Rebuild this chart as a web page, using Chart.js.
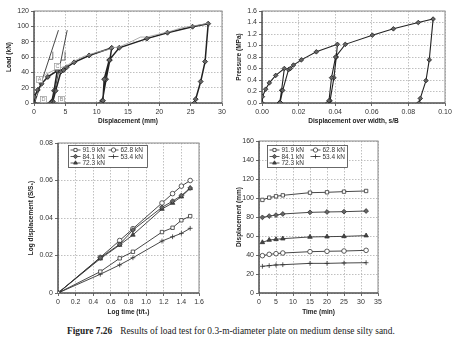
<!DOCTYPE html>
<html>
<head>
<meta charset="utf-8">
<script src="https://cdn.jsdelivr.net/npm/chart.js@4.4.0/dist/chart.umd.min.js"></script>
<style>
  html, body { margin: 0; padding: 0; background: #fff; }
  #page { position: relative; width: 474px; height: 345px; overflow: hidden; }
  .panel { position: absolute; }
  #caption {
    position: absolute; left: 67px; top: 326px; white-space: nowrap;
    font-family: 'Liberation Serif', 'Times New Roman', serif; font-size: 9.4px; color: #222;
  }
  #caption b { margin-right: 8px; }
</style>
</head>
<body>
<div id="page">
  <canvas id="cLoad" class="panel" width="230" height="130" style="left:0;top:0"></canvas>
  <canvas id="cPress" class="panel" width="242" height="130" style="left:232px;top:0"></canvas>
  <canvas id="cLogT" class="panel" width="230" height="190" style="left:0;top:130px"></canvas>
  <canvas id="cTime" class="panel" width="242" height="190" style="left:232px;top:130px"></canvas>
  <div id="caption"><b>Figure 7.26</b>Results of load test for 0.3-m-diameter plate on medium dense silty sand.</div>
</div>
<script>
// ---- load / displacement (mm) ----
const loadDisp = [0, 0.05, 0.6, 1.2, 2.2, 3.7, 3.2, 2.85, 2.7, 3.0, 3.45, 4.3, 4.7, 5.2, 6.4, 8.8, 12.4, 12.1, 11.5, 10.9, 10.7, 11.0, 11.2, 12.0, 13.6, 18.0, 21.3, 25.3, 27.8, 27.3, 26.6, 25.8, 25.6];
const loadKN   = [0, 8, 17, 25, 34, 42, 16, 2, 0, 2, 16, 41, 43, 46.5, 53, 62, 72, 56, 31, 3, 0, 3, 31, 56, 72, 84, 91.7, 99.5, 103.5, 54, 28, 5, 0];
// hand-drawn trend curve
const trendDisp = [1.0, 2.0, 3.5, 5.0, 6.5, 8.0, 10.0, 12.0, 12.4, 13.5, 15.0, 17.0, 18.0, 20.0, 22.0, 23.5, 25.0, 26.5, 27.8];
const trendKN   = [30, 38, 44, 48, 55, 61, 66, 70, 72, 73, 78, 86, 86, 90, 94, 98, 100, 102, 104];
// initial slopes
const slope1Disp = [0.1, 3.9];
const slope1KN   = [0, 95];
const slope2Disp = [2.9, 5.3];
const slope2KN   = [0, 95];
const mark1Disp = [2.4, 3.0, 3.0];
const mark1KN   = [57, 57, 67];
const mark2Disp = [4.33, 4.95, 4.95];
const mark2KN   = [56, 56, 67];
const tagNames = ['A', 'B', 'C', 'D'];
const tagDisp  = [0.85, 4.3, 3.6, 1.5];
const tagKN    = [31, 4.8, 48.7, 4.8];

// ---- pressure / normalised displacement ----
const sOverB   = [0, 0.0002, 0.002, 0.004, 0.0075, 0.0122, 0.0107, 0.0097, 0.0095, 0.0099, 0.0113, 0.0145, 0.0155, 0.0172, 0.0215, 0.0297, 0.0412, 0.0406, 0.0393, 0.0372, 0.036, 0.0366, 0.038, 0.0402, 0.0455, 0.0603, 0.0718, 0.0854, 0.0935, 0.0914, 0.0896, 0.0865, 0.0858];
const pressMPa = [0, 0.11, 0.24, 0.35, 0.48, 0.60, 0.22, 0.01, 0, 0.01, 0.22, 0.58, 0.60, 0.66, 0.75, 0.89, 1.02, 0.80, 0.44, 0.04, 0, 0.04, 0.44, 0.80, 1.02, 1.18, 1.29, 1.40, 1.46, 0.75, 0.39, 0.08, 0];

// ---- creep stages ----
const stageLabels = ['91.9 kN', '84.1 kN', '72.3 kN', '62.8 kN', '53.4 kN'];
const logTime = [0, 0.48, 0.70, 0.85, 1.18, 1.30, 1.40, 1.50];
const logDisp919 = [0, 0.0114, 0.0185, 0.022, 0.0325, 0.0348, 0.0388, 0.041];
const logDisp841 = [0, 0.0188, 0.026, 0.0336, 0.0457, 0.049, 0.052, 0.056];
const logDisp723 = [0, 0.0183, 0.0256, 0.031, 0.0448, 0.048, 0.0514, 0.0558];
const logDisp628 = [0, 0.019, 0.028, 0.0343, 0.048, 0.053, 0.057, 0.060];
const logDisp534 = [0, 0.010, 0.015, 0.0188, 0.0277, 0.030, 0.0318, 0.0345];

const timeMin = [1, 3, 5, 7, 15, 20, 25, 31.5];
const disp919 = [98, 100.4, 101.8, 102.8, 105.6, 106, 106.7, 107.4];
const disp841 = [79.6, 81, 82, 83.2, 84.9, 85.3, 85.6, 86.3];
const disp723 = [53.3, 55.8, 56.5, 57.2, 59, 59.3, 59.6, 60.4];
const disp628 = [39.3, 40.7, 41.4, 42.1, 43.5, 43.9, 44.2, 44.9];
const disp534 = [28.1, 28.8, 29.5, 29.8, 31.2, 31.2, 31.6, 31.9];

Chart.defaults.font.family = "'Liberation Sans', Arial, sans-serif";
Chart.defaults.color = '#333';

const pts = (xs, ys) => xs.map((x, i) => ({ x: x, y: ys[i] }));

// frame round the plot, darker on the two axes
const framePlugin = {
  id: 'frame',
  beforeDatasetsDraw(chart) {
    const { ctx, chartArea: a } = chart;
    ctx.save();
    ctx.lineWidth = 1;
    ctx.strokeStyle = '#8a8a8a';
    ctx.strokeRect(a.left, a.top, a.right - a.left, a.bottom - a.top);
    ctx.strokeStyle = '#333';
    ctx.beginPath();
    ctx.moveTo(a.left, a.top);
    ctx.lineTo(a.left, a.bottom);
    ctx.lineTo(a.right, a.bottom);
    ctx.stroke();
    ctx.restore();
  }
};

// boxed legend inside the plot, two columns
const boxLegend = {
  id: 'boxLegend',
  afterDraw(chart, args, opts) {
    if (!opts || !opts.w) return;
    const { ctx, chartArea } = chart;
    const x0 = Math.round(chartArea.left + opts.dx) + 0.5;
    const y0 = Math.round(chartArea.top + opts.dy) + 0.5;
    ctx.save();
    ctx.fillStyle = '#fff';
    ctx.fillRect(x0, y0, opts.w, opts.h);
    ctx.strokeStyle = '#444';
    ctx.lineWidth = 0.8;
    ctx.strokeRect(x0, y0, opts.w, opts.h);
    ctx.font = "6.5px 'Liberation Sans', Arial, sans-serif";
    ctx.textBaseline = 'middle';
    chart.data.datasets.forEach((ds, i) => {
      const lx = x0 + opts.colX[opts.cols[i]];
      const ly = y0 + opts.rowY[opts.rows[i]];
      ctx.strokeStyle = ds.borderColor;
      ctx.lineWidth = 0.8;
      ctx.beginPath();
      ctx.moveTo(lx, ly);
      ctx.lineTo(lx + 10, ly);
      ctx.stroke();
      ctx.fillStyle = ds.pointBackgroundColor;
      ctx.strokeStyle = ds.pointBorderColor;
      Chart.helpers.drawPoint(ctx, { pointStyle: ds.pointStyle, radius: 2.2, rotation: 0, borderWidth: 0.8 }, lx + 5, ly);
      ctx.fillStyle = '#333';
      ctx.fillText(ds.label, lx + 12, ly + 0.5);
    });
    ctx.restore();
  }
};

// little boxed letters on the load curve
const letterTags = {
  id: 'letterTags',
  afterDatasetsDraw(chart, args, opts) {
    if (!opts || !opts.names) return;
    const { ctx, scales } = chart;
    ctx.save();
    ctx.font = "5.5px 'Liberation Sans', Arial, sans-serif";
    ctx.textAlign = 'center';
    ctx.textBaseline = 'middle';
    opts.names.forEach((n, i) => {
      const px = Math.round(scales.x.getPixelForValue(opts.xs[i])) + 0.5;
      const py = Math.round(scales.y.getPixelForValue(opts.ys[i])) + 0.5;
      ctx.fillStyle = '#fff';
      ctx.fillRect(px - 3, py - 3, 6, 6);
      ctx.strokeStyle = '#999';
      ctx.lineWidth = 0.7;
      ctx.strokeRect(px - 3, py - 3, 6, 6);
      ctx.fillStyle = '#888';
      ctx.fillText(n, px, py + 0.3);
    });
    ctx.restore();
  }
};

function axis(o) {
  const a = {
    type: 'linear', min: o.min, max: o.max,
    ticks: { stepSize: o.step, autoSkip: false, maxRotation: 0, padding: 2, font: { size: 7 }, color: '#333' },
    grid: { color: '#b0b0b0', lineWidth: 0.8, tickColor: '#444', tickLength: 3, tickWidth: 0.8, tickBorderDash: [] },
    border: { display: false, dash: [1.5, 1.5] },
    title: { display: true, text: o.title, color: '#222', font: { size: 6.5, weight: 'bold' }, padding: { top: 0, bottom: 0 } }
  };
  if (o.fmt) a.ticks.callback = o.fmt;
  if (o.horizontal) {
    a.title.padding.bottom = o.titlePad;
    a.afterFit = s => { s.height = o.size; };
  } else {
    a.title.padding.top = o.titlePad;
    a.afterFit = s => { s.width = o.size; };
  }
  return a;
}

function baseOptions(xAx, yAx, pad, extra) {
  return {
    responsive: false,
    animation: false,
    devicePixelRatio: 1,
    layout: { padding: { top: pad.top, right: pad.right, left: 0, bottom: 0 } },
    plugins: Object.assign({ legend: { display: false }, tooltip: { enabled: false } }, extra || {}),
    scales: { x: xAx, y: yAx }
  };
}

const curveStyle = {
  showLine: true, borderColor: '#222', borderWidth: 1.5,
  pointStyle: 'rectRot', pointRadius: 2.5, pointBackgroundColor: '#666', pointBorderColor: '#222', pointBorderWidth: 0.8
};
const thinLine = { showLine: true, borderColor: '#333', borderWidth: 0.9, pointRadius: 0 };

// load vs displacement
new Chart(document.getElementById('cLoad'), {
  type: 'scatter',
  data: {
    datasets: [
      Object.assign({ data: pts(trendDisp, trendKN) }, thinLine, { borderColor: '#9a9a9a', borderWidth: 0.8 }),
      Object.assign({ data: pts(slope1Disp, slope1KN) }, thinLine),
      Object.assign({ data: pts(slope2Disp, slope2KN) }, thinLine),
      Object.assign({ data: pts(mark1Disp, mark1KN) }, thinLine, { borderWidth: 0.7 }),
      Object.assign({ data: pts(mark2Disp, mark2KN) }, thinLine, { borderWidth: 0.7 }),
      Object.assign({ data: pts(loadDisp, loadKN) }, curveStyle)
    ]
  },
  options: baseOptions(
    axis({ min: 0, max: 30, step: 5, title: 'Displacement (mm)', horizontal: true, size: 27, titlePad: 5 }),
    axis({ min: 0, max: 120, step: 20, title: 'Load (kN)', size: 34, titlePad: 5 }),
    { top: 11, right: 8 },
    { letterTags: { names: tagNames, xs: tagDisp, ys: tagKN } }
  ),
  plugins: [framePlugin, letterTags]
});

// pressure vs s/B
new Chart(document.getElementById('cPress'), {
  type: 'scatter',
  data: { datasets: [Object.assign({ data: pts(sOverB, pressMPa) }, curveStyle, { borderWidth: 1.1, pointRadius: 2.3 })] },
  options: baseOptions(
    axis({ min: 0, max: 0.1, step: 0.02, title: 'Displacement over width, s/B', horizontal: true, size: 27, titlePad: 5, fmt: v => v.toFixed(2) }),
    axis({ min: 0, max: 1.6, step: 0.2, title: 'Pressure (MPa)', size: 30, titlePad: 3, fmt: v => v.toFixed(1) }),
    { top: 11, right: 29 }
  ),
  plugins: [framePlugin]
});

// marker per load stage
const stageStyles = [
  { pointStyle: 'rect', pointRadius: 2.4, pointBackgroundColor: '#fff' },
  { pointStyle: 'rectRot', pointRadius: 2.4, pointBackgroundColor: '#666' },
  { pointStyle: 'triangle', pointRadius: 2.6, pointBackgroundColor: '#444' },
  { pointStyle: 'circle', pointRadius: 2.3, pointBackgroundColor: '#fff' },
  { pointStyle: 'cross', pointRadius: 2.4, pointBackgroundColor: '#333' }
];
function stageSets(xs, series) {
  return series.map((ys, i) => Object.assign({
    label: stageLabels[i], data: pts(xs, ys), showLine: true,
    borderColor: '#333', borderWidth: 0.9, pointBorderColor: '#333', pointBorderWidth: 0.8
  }, stageStyles[i]));
}
const legendLayout = { cols: [0, 0, 0, 1, 1], rows: [0, 1, 2, 0, 1] };

// log displacement vs log time
new Chart(document.getElementById('cLogT'), {
  type: 'scatter',
  data: { datasets: stageSets(logTime, [logDisp919, logDisp841, logDisp723, logDisp628, logDisp534]) },
  options: baseOptions(
    axis({ min: 0, max: 1.6, step: 0.2, title: 'Log time (t/t₁)', horizontal: true, size: 27, titlePad: 4 }),
    axis({ min: 0, max: 0.08, step: 0.02, title: 'Log displacement (S/S₁)', size: 58, titlePad: 27 }),
    { top: 13, right: 31 },
    { boxLegend: Object.assign({ dx: 10, dy: 2, w: 79, h: 22, colX: [2, 40], rowY: [4.5, 11, 17.5] }, legendLayout) }
  ),
  plugins: [framePlugin, boxLegend]
});

// displacement vs time
new Chart(document.getElementById('cTime'), {
  type: 'scatter',
  data: { datasets: stageSets(timeMin, [disp919, disp841, disp723, disp628, disp534]) },
  options: baseOptions(
    axis({ min: 0, max: 35, step: 5, title: 'Time (min)', horizontal: true, size: 27, titlePad: 4 }),
    axis({ min: 0, max: 160, step: 20, title: 'Displacement (mm)', size: 27, titlePad: 3 }),
    { top: 11, right: 96 },
    { boxLegend: Object.assign({ dx: 8, dy: 4, w: 80, h: 22, colX: [2, 43], rowY: [4.5, 11, 17.5] }, legendLayout) }
  ),
  plugins: [framePlugin, boxLegend]
});
</script>
</body>
</html>
